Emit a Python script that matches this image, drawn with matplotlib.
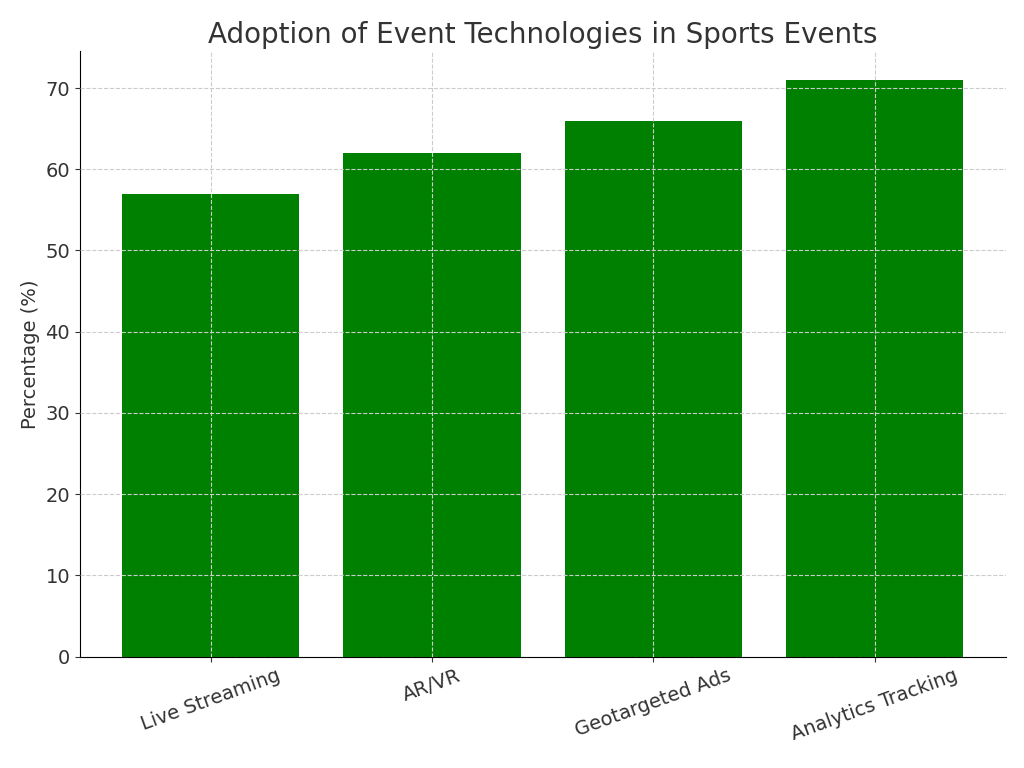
import matplotlib
matplotlib.use("Agg")
import matplotlib.pyplot as plt

categories = ["Live Streaming", "AR/VR", "Geotargeted Ads", "Analytics Tracking"]
values = [57, 62, 66, 71]

fig = plt.figure(figsize=(10.24, 7.68), dpi=100)
ax = fig.add_axes([0.078, 0.145, 0.904, 0.788])
ax.bar(categories, values, color="green", width=0.8, zorder=1)
ax.grid(True, linestyle="--", color="#cccccc", linewidth=0.8, zorder=2)
ax.set_axisbelow(False)
ax.set_title("Adoption of Event Technologies in Sports Events", fontsize=20, color="#333333")
ax.set_ylabel("Percentage (%)", fontsize=14, color="#333333")
ax.tick_params(axis="both", labelsize=14, colors="#333333")
plt.setp(ax.get_xticklabels(), rotation=20)
ax.spines["top"].set_visible(False)
ax.spines["right"].set_visible(False)
ax.set_ylim(0, 74.5)
fig.savefig("out.png")
